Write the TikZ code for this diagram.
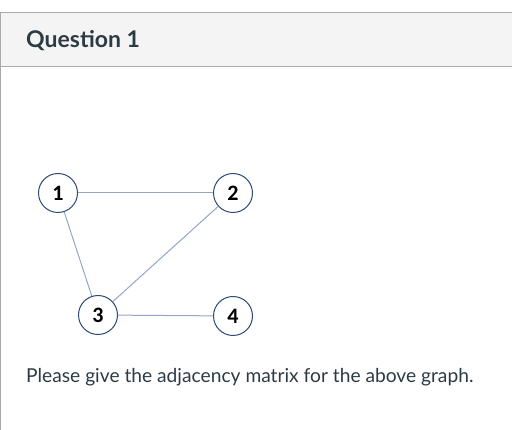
\documentclass[tikz,border=0pt]{standalone}
\usepackage{fontspec}
\setmainfont{Lato}
\newfontfamily\numfont{Carlito}
\definecolor{txt}{HTML}{2D3B45}
\definecolor{hdr}{HTML}{F4F4F4}
\definecolor{frame}{HTML}{AAAAAA}
\definecolor{ring}{HTML}{2F4A78}
\definecolor{edge}{HTML}{93A6C9}
\begin{document}
\begin{tikzpicture}[x=1pt,y=-1pt,
  vtx/.style={circle,draw=ring,line width=1pt,fill=white,minimum size=39pt,inner sep=0pt,font=\numfont\bfseries\fontsize{22}{22}\selectfont,text=black},
  lnk/.style={draw=edge,line width=1pt}]
\useasboundingbox (0,0) rectangle (512,430);
\fill[white] (0,0) rectangle (512,430);
\fill[hdr] (0.5,12.5) rectangle (513,66.5);
\draw[frame,line width=1pt] (513,12.5) -- (0.5,12.5) -- (0.5,431);
\draw[frame,line width=1pt] (0.5,66.5) -- (513,66.5);
\node[anchor=base west,inner sep=0pt,text=txt,font=\bfseries\fontsize{23}{27}\selectfont] (title) at (26,48) {Question 1};
\node[vtx] (n1) at (58,193) {1};
\node[vtx] (n2) at (233,193) {2};
\node[vtx] (n3) at (98,315) {3};
\node[vtx] (n4) at (233,316) {4};
\draw[lnk] (n1) -- (n2);
\draw[lnk] (n1) -- (n3);
\draw[lnk] (n2) -- (n3);
\draw[lnk] (n3) -- (n4);
\node[anchor=base west,inner sep=0pt,text=txt,font=\fontsize{19.2}{22}\selectfont] (q) at (26,383) {Please give the adjacency matrix for the above graph.};
\end{tikzpicture}
\end{document}
